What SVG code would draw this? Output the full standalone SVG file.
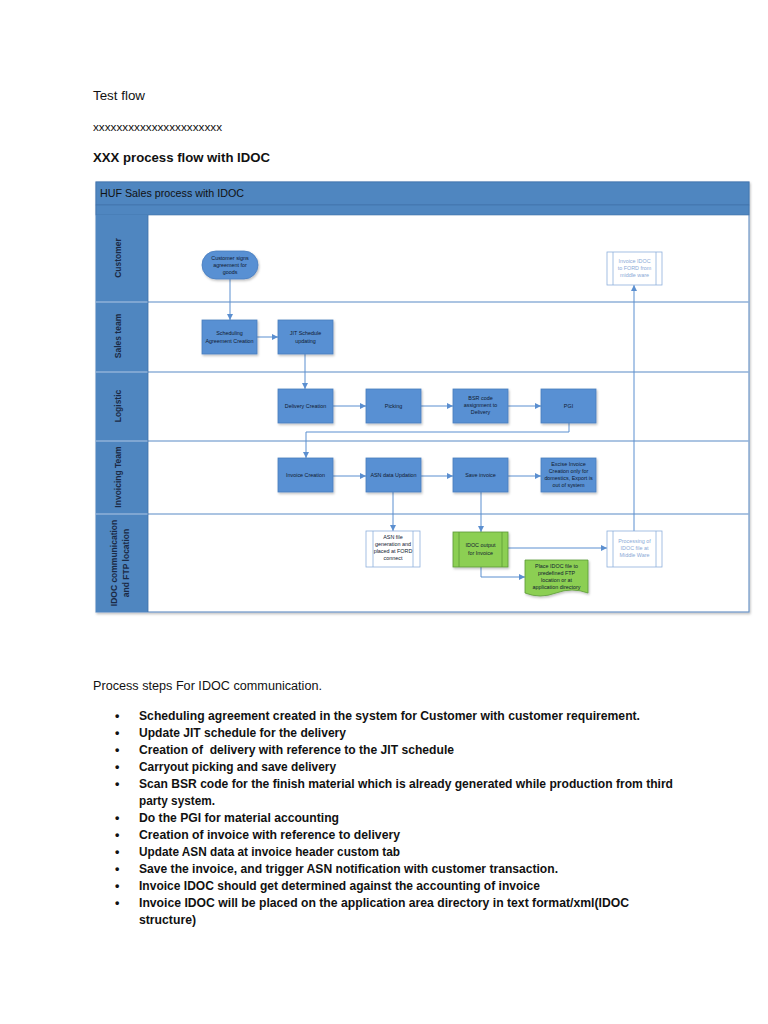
<svg xmlns="http://www.w3.org/2000/svg" width="768" height="1024" viewBox="0 0 768 1024">
<style>
.doc{font-family:"Liberation Sans",Arial,sans-serif;fill:#111}
.h{font-size:12.5px}
.b{font-weight:bold}
.lane{font-family:"Liberation Sans",Arial,sans-serif;font-size:8.5px;font-weight:bold;fill:#1b2a45}
.box{fill:#5890d3;stroke:#4a7ebf;stroke-width:0.8}
.t{font-family:"Liberation Sans",Arial,sans-serif;font-size:5.4px;fill:#101a30;text-anchor:middle}
.tl{font-family:"Liberation Sans",Arial,sans-serif;font-size:5.4px;fill:#8aa9d6;text-anchor:middle}
.pp{fill:#fff;stroke:#8eb0dc;stroke-width:0.8}
.ppl{stroke:#8eb0dc;stroke-width:0.8}
.g{fill:#8ccf52;stroke:#5c9a36;stroke-width:0.8}
.c{fill:none;stroke:#5b8fd0;stroke-width:1}
.sep{stroke:#8fb0d8;stroke-width:1.5}
</style>
<defs>
<marker id="ar" viewBox="0 0 6 6" refX="6" refY="3" markerWidth="6" markerHeight="6" orient="auto" markerUnits="userSpaceOnUse">
<path d="M0,0 L6,3 L0,6 Z" fill="#5b8fd0"/>
</marker>
<filter id="sh" x="-10%" y="-10%" width="130%" height="130%">
<feDropShadow dx="1" dy="1.5" stdDeviation="0.8" flood-color="#000" flood-opacity="0.25"/>
</filter>
</defs>
<rect width="768" height="1024" fill="#fff"/>

<g id="header-text">
<text class="doc h" x="93" y="100" textLength="52" lengthAdjust="spacingAndGlyphs">Test flow</text>
<text class="doc" x="93" y="131" font-size="11" textLength="129" lengthAdjust="spacingAndGlyphs">xxxxxxxxxxxxxxxxxxxxxx</text>
<text class="doc h b" x="93" y="162" textLength="177" lengthAdjust="spacingAndGlyphs">XXX process flow with IDOC</text>
</g>

<g id="pool">
<rect x="96" y="182" width="653" height="430" fill="#fff" stroke="#6d95c6" stroke-width="1.2" filter="url(#sh)"/>
<rect x="96" y="182" width="653" height="23" fill="#4f86c0" stroke="#3f6fa6" stroke-width="0.6"/>
<rect x="96" y="205" width="653" height="10" fill="#4f86c0" stroke="#3f6fa6" stroke-width="0.6"/>
<text class="doc" x="100" y="197" font-size="10.5" fill="#14213a" textLength="144" lengthAdjust="spacingAndGlyphs">HUF Sales process with IDOC</text>
<rect x="96" y="215" width="52" height="397" fill="#4f86c0"/>
<line class="sep" x1="96" y1="302" x2="749" y2="302"/>
<line class="sep" x1="96" y1="372" x2="749" y2="372"/>
<line class="sep" x1="96" y1="441" x2="749" y2="441"/>
<line class="sep" x1="96" y1="514" x2="749" y2="514"/>
<line x1="148" y1="215" x2="148" y2="612" stroke="#3f6fa6" stroke-width="0.8"/>
</g>

<g id="lane-labels">
<text class="lane" transform="translate(121,258) rotate(-90)" text-anchor="middle">Customer</text>
<text class="lane" transform="translate(121,336) rotate(-90)" text-anchor="middle" fill="#ffffff">Sales team</text>
<text class="lane" transform="translate(121,406) rotate(-90)" text-anchor="middle">Logistic</text>
<text class="lane" transform="translate(121,477) rotate(-90)" text-anchor="middle">Invoicing Team</text>
<text class="lane" transform="translate(117,563) rotate(-90)" text-anchor="middle">IDOC communication</text>
<text class="lane" transform="translate(129,563) rotate(-90)" text-anchor="middle">and FTP location</text>
</g>

<g id="connectors">
<path class="c" d="M230,279 V320" marker-end="url(#ar)"/>
<path class="c" d="M257,337 H278" marker-end="url(#ar)"/>
<path class="c" d="M305,354 V389" marker-end="url(#ar)"/>
<path class="c" d="M333,406 H366" marker-end="url(#ar)"/>
<path class="c" d="M421,406 H453" marker-end="url(#ar)"/>
<path class="c" d="M508,406 H541" marker-end="url(#ar)"/>
<path class="c" d="M569,423 V432 H306 V458" marker-end="url(#ar)"/>
<path class="c" d="M333,476 H366" marker-end="url(#ar)"/>
<path class="c" d="M421,476 H453" marker-end="url(#ar)"/>
<path class="c" d="M508,476 H541" marker-end="url(#ar)"/>
<path class="c" d="M393,492 V531" marker-end="url(#ar)"/>
<path class="c" d="M481,492 V532" marker-end="url(#ar)"/>
<path class="c" d="M508,548 H607" marker-end="url(#ar)"/>
<path class="c" d="M481,567 V577 H525" marker-end="url(#ar)"/>
<path class="c" d="M634,531 V285" marker-end="url(#ar)"/>
</g>

<g id="n-customer-signs">
<rect x="202" y="251" width="56" height="28" rx="14" class="box" filter="url(#sh)"/>
<text class="t" x="230" y="260">Customer signs</text>
<text class="t" x="230" y="267">agreement for</text>
<text class="t" x="230" y="274">goods</text>
</g>
<g id="n-scheduling">
<rect x="202" y="320" width="55" height="34" class="box" filter="url(#sh)"/>
<text class="t" x="229.5" y="335">Scheduling</text>
<text class="t" x="229.5" y="343">Agreement Creation</text>
</g>
<g id="n-jit">
<rect x="278" y="320" width="55" height="34" class="box" filter="url(#sh)"/>
<text class="t" x="305.5" y="335">JIT Schedule</text>
<text class="t" x="305.5" y="343">updating</text>
</g>
<g id="n-delivery">
<rect x="278" y="389" width="55" height="34" class="box" filter="url(#sh)"/>
<text class="t" x="305.5" y="408">Delivery Creation</text>
</g>
<g id="n-picking">
<rect x="366" y="389" width="55" height="34" class="box" filter="url(#sh)"/>
<text class="t" x="393.5" y="408">Picking</text>
</g>
<g id="n-bsr">
<rect x="453" y="389" width="55" height="34" class="box" filter="url(#sh)"/>
<text class="t" x="480.5" y="400">BSR code</text>
<text class="t" x="480.5" y="407">assignment to</text>
<text class="t" x="480.5" y="414">Delivery</text>
</g>
<g id="n-pgi">
<rect x="541" y="389" width="55" height="34" class="box" filter="url(#sh)"/>
<text class="t" x="568.5" y="408">PGI</text>
</g>
<g id="n-invoice-creation">
<rect x="278" y="458" width="55" height="34" class="box" filter="url(#sh)"/>
<text class="t" x="305.5" y="477">Invoice Creation</text>
</g>
<g id="n-asn-update">
<rect x="366" y="458" width="55" height="34" class="box" filter="url(#sh)"/>
<text class="t" x="393.5" y="477">ASN data Updation</text>
</g>
<g id="n-save-invoice">
<rect x="453" y="458" width="55" height="34" class="box" filter="url(#sh)"/>
<text class="t" x="480.5" y="477">Save invoice</text>
</g>
<g id="n-excise">
<rect x="541" y="458" width="55" height="34" class="box" filter="url(#sh)"/>
<text class="t" x="568.5" y="466">Excise Invoice</text>
<text class="t" x="568.5" y="473">Creation only for</text>
<text class="t" x="568.5" y="480">domestics, Export is</text>
<text class="t" x="568.5" y="487">out of system</text>
</g>
<g id="n-asn-file">
<rect x="366" y="531" width="54" height="36" class="pp"/>
<line class="ppl" x1="373" y1="531" x2="373" y2="567"/>
<line class="ppl" x1="413" y1="531" x2="413" y2="567"/>
<text class="t" x="393" y="539">ASN file</text>
<text class="t" x="393" y="546">generation and</text>
<text class="t" x="393" y="553">placed at FORD</text>
<text class="t" x="393" y="560">connect</text>
</g>
<g id="n-idoc-output">
<rect x="453" y="532" width="55" height="35" class="g" filter="url(#sh)"/>
<line x1="459" y1="532" x2="459" y2="567" stroke="#5c9a36" stroke-width="0.8"/>
<line x1="502" y1="532" x2="502" y2="567" stroke="#5c9a36" stroke-width="0.8"/>
<text class="t" x="480.5" y="547">IDOC output</text>
<text class="t" x="480.5" y="555">for Invoice</text>
</g>
<g id="n-place-idoc">
<path d="M525,560 H588 V593 Q572,587 556,593 Q540,599 525,593 Z" class="g" filter="url(#sh)"/>
<text class="t" x="556.5" y="568">Place IDOC file to</text>
<text class="t" x="556.5" y="575">predefined FTP</text>
<text class="t" x="556.5" y="582">location or at</text>
<text class="t" x="556.5" y="589">application directory</text>
</g>
<g id="n-processing">
<rect x="607" y="531" width="55" height="36" class="pp"/>
<line class="ppl" x1="613" y1="531" x2="613" y2="567"/>
<line class="ppl" x1="656" y1="531" x2="656" y2="567"/>
<text class="tl" x="634.5" y="543">Processing of</text>
<text class="tl" x="634.5" y="550">IDOC file at</text>
<text class="tl" x="634.5" y="557">Middle Ware</text>
</g>
<g id="n-invoice-idoc">
<rect x="607" y="252" width="55" height="33" class="pp"/>
<line class="ppl" x1="613" y1="252" x2="613" y2="285"/>
<line class="ppl" x1="656" y1="252" x2="656" y2="285"/>
<text class="tl" x="634.5" y="263">Invoice IDOC</text>
<text class="tl" x="634.5" y="270">to FORD from</text>
<text class="tl" x="634.5" y="277">middle ware</text>
</g>

<g id="steps" class="doc">
<text class="h" x="93" y="690" textLength="229" lengthAdjust="spacingAndGlyphs">Process steps For IDOC communication.</text>
<g font-size="12.5" font-weight="bold">
<text x="115" y="720">•</text><text x="139" y="720" textLength="501" lengthAdjust="spacingAndGlyphs">Scheduling agreement created in the system for Customer with customer requirement.</text>
<text x="115" y="737">•</text><text x="139" y="737" textLength="207" lengthAdjust="spacingAndGlyphs">Update JIT schedule for the delivery</text>
<text x="115" y="754">•</text><text x="139" y="754" textLength="315" lengthAdjust="spacingAndGlyphs" xml:space="preserve" style="white-space:pre">Creation of  delivery with reference to the JIT schedule</text>
<text x="115" y="771">•</text><text x="139" y="771" textLength="197" lengthAdjust="spacingAndGlyphs">Carryout picking and save delivery</text>
<text x="115" y="788">•</text><text x="139" y="788" textLength="534" lengthAdjust="spacingAndGlyphs">Scan BSR code for the finish material which is already generated while production from third</text>
<text x="139" y="805" textLength="76" lengthAdjust="spacingAndGlyphs">party system.</text>
<text x="115" y="822">•</text><text x="139" y="822" textLength="200" lengthAdjust="spacingAndGlyphs">Do the PGI for material accounting</text>
<text x="115" y="839">•</text><text x="139" y="839" textLength="261" lengthAdjust="spacingAndGlyphs">Creation of invoice with reference to delivery</text>
<text x="115" y="856">•</text><text x="139" y="856" textLength="261" lengthAdjust="spacingAndGlyphs">Update ASN data at invoice header custom tab</text>
<text x="115" y="873">•</text><text x="139" y="873" textLength="419" lengthAdjust="spacingAndGlyphs">Save the invoice, and trigger ASN notification with customer transaction.</text>
<text x="115" y="890">•</text><text x="139" y="890" textLength="401" lengthAdjust="spacingAndGlyphs">Invoice IDOC should get determined against the accounting of invoice</text>
<text x="115" y="907">•</text><text x="139" y="907" textLength="490" lengthAdjust="spacingAndGlyphs">Invoice IDOC will be placed on the application area directory in text format/xml(IDOC</text>
<text x="139" y="924" textLength="57" lengthAdjust="spacingAndGlyphs">structure)</text>
</g>
</g>
</svg>
